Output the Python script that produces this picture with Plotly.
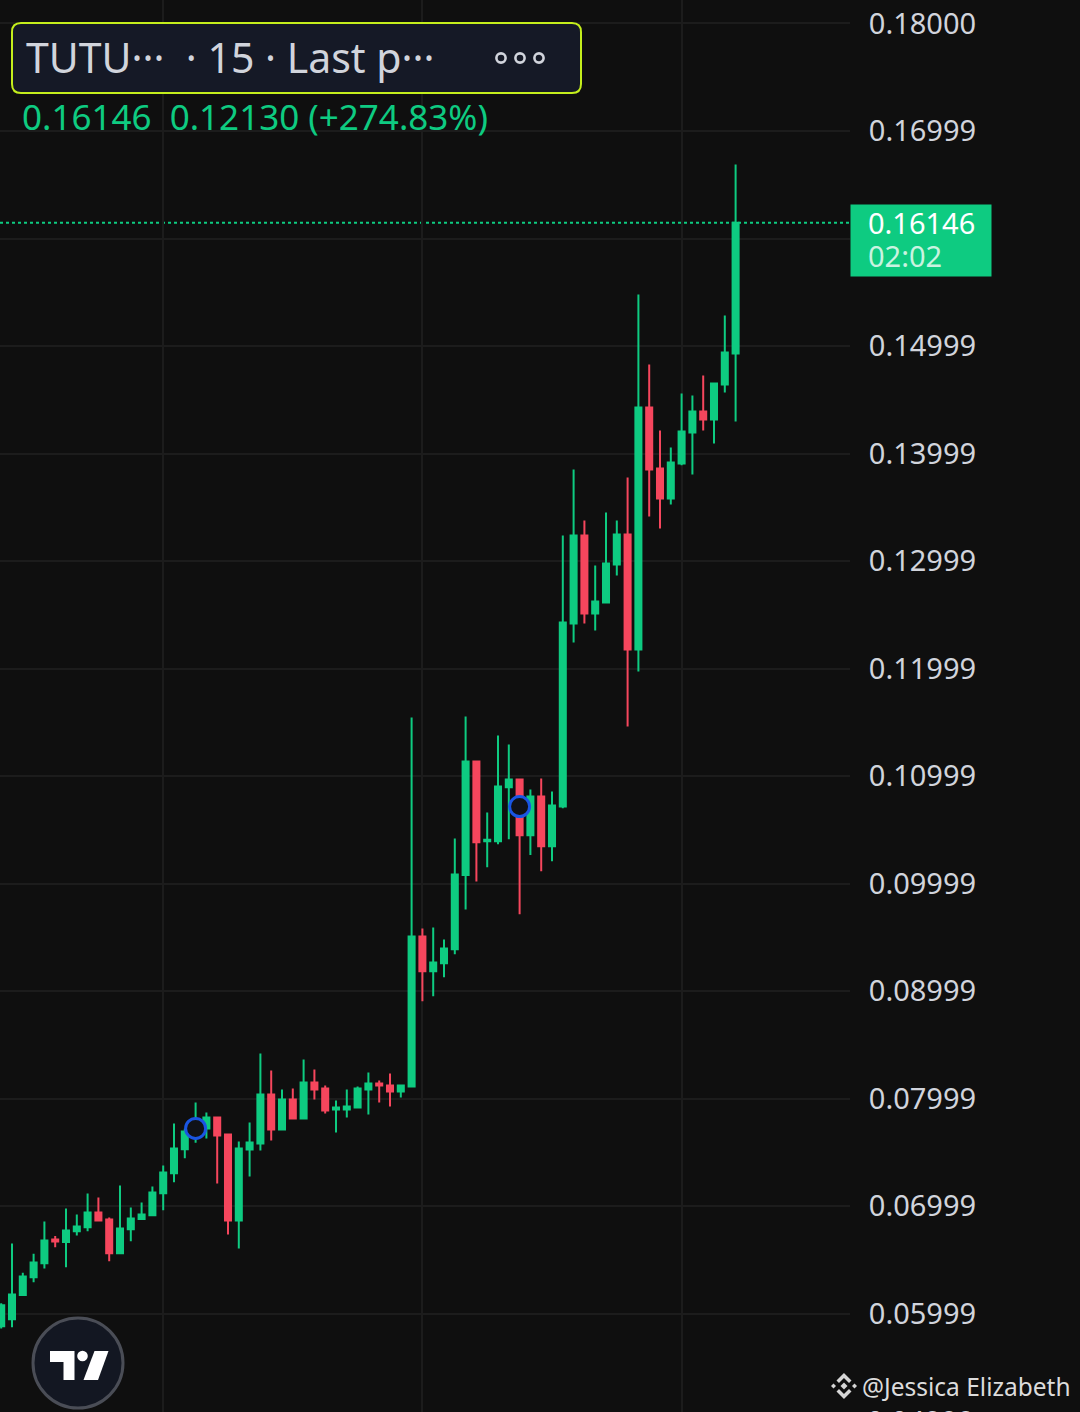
import plotly.graph_objects as go

# 15 min candles, index -1 is the one cut off by the left edge
candle_idx = list(range(-1, 68))
opens = [0.05880, 0.05946, 0.06170, 0.06337, 0.06467, 0.06687, 0.06663, 0.06765, 0.06802, 0.06939,
         0.06873, 0.06560, 0.06783, 0.06877, 0.06914, 0.07118, 0.07304, 0.07528, 0.07701, 0.07720,
         0.07822, 0.07664, 0.06864, 0.07525, 0.07580, 0.08036, 0.07711, 0.07990, 0.07813, 0.08148,
         0.08092, 0.07897, 0.07897, 0.07915, 0.08083, 0.08139, 0.08120, 0.08064, 0.08111, 0.09506,
         0.09183, 0.09258, 0.09388, 0.10077, 0.11134, 0.10393, 0.10393, 0.10895, 0.10966, 0.10449,
         0.10808, 0.10346, 0.10715, 0.12418, 0.13236, 0.12511, 0.12613, 0.12966, 0.13246, 0.12176,
         0.14427, 0.13859, 0.13580, 0.13906, 0.14194, 0.14390, 0.14315, 0.14641, 0.14929]
highs = [0.06095, 0.06650, 0.06377, 0.06554, 0.06855, 0.06721, 0.06976, 0.06920, 0.07115, 0.07078,
         0.06892, 0.07190, 0.06985, 0.07032, 0.07180, 0.07376, 0.07766, 0.07717, 0.07962, 0.07869,
         0.07826, 0.07673, 0.07599, 0.07776, 0.08418, 0.08259, 0.08083, 0.08092, 0.08362, 0.08269,
         0.08120, 0.07980, 0.08083, 0.08111, 0.08241, 0.08166, 0.08232, 0.08129, 0.11543, 0.09580,
         0.09590, 0.09478, 0.10418, 0.11552, 0.11136, 0.10659, 0.11376, 0.11292, 0.10976, 0.10873,
         0.10976, 0.10855, 0.13236, 0.13850, 0.13376, 0.12957, 0.13450, 0.13376, 0.13776, 0.15478,
         0.14827, 0.14213, 0.14055, 0.14557, 0.14539, 0.14725, 0.14660, 0.15283, 0.16687]
lows = [0.05860, 0.05872, 0.06165, 0.06290, 0.06418, 0.06616, 0.06430, 0.06725, 0.06765, 0.06858,
        0.06486, 0.06558, 0.06672, 0.06875, 0.06912, 0.06960, 0.07221, 0.07444, 0.07587, 0.07627,
        0.07208, 0.06734, 0.06604, 0.07273, 0.07515, 0.07608, 0.07709, 0.07811, 0.07811, 0.07990,
        0.07859, 0.07683, 0.07822, 0.07913, 0.07850, 0.07962, 0.07925, 0.08008, 0.08105, 0.08904,
        0.08951, 0.09128, 0.09342, 0.09757, 0.10018, 0.10151, 0.10365, 0.10411, 0.09714, 0.10263,
        0.10114, 0.10207, 0.10700, 0.12241, 0.12418, 0.12352, 0.12611, 0.12864, 0.11459, 0.11971,
        0.13413, 0.13301, 0.13525, 0.13890, 0.13804, 0.14213, 0.14092, 0.14566, 0.14297]
closes = [0.06076, 0.06176, 0.06343, 0.06473, 0.06678, 0.06669, 0.06771, 0.06808, 0.06939, 0.06864,
          0.06560, 0.06790, 0.06883, 0.06920, 0.07125, 0.07311, 0.07534, 0.07692, 0.07763, 0.07822,
          0.07655, 0.06864, 0.07534, 0.07590, 0.08036, 0.07711, 0.07990, 0.07813, 0.08148, 0.08083,
          0.07887, 0.07915, 0.07925, 0.08092, 0.08139, 0.08120, 0.08064, 0.08120, 0.09506, 0.09183,
          0.09264, 0.09394, 0.10083, 0.11134, 0.10383, 0.10405, 0.10901, 0.10966, 0.10449, 0.10808,
          0.10346, 0.10725, 0.12427, 0.13236, 0.12511, 0.12622, 0.12976, 0.13246, 0.12176, 0.14427,
          0.13850, 0.13580, 0.13915, 0.14204, 0.14390, 0.14315, 0.14650, 0.14939, 0.16146]

# blue circle markers on the chart
marker_idx = [17, 47]
marker_price = [0.07720, 0.10715]

tick_vals = [0.05999, 0.06999, 0.07999, 0.08999, 0.09999, 0.10999, 0.11999,
             0.12999, 0.13999, 0.14999, 0.15999, 0.16999, 0.18000]
# 0.15999 sits under the last price label, only its grid line shows
tick_text = ["" if v == 0.15999 else "%.5f" % v for v in tick_vals]
grid_x = [14, 38, 62]

last_price = closes[-1]
change = 0.12130
change_pct = 274.83
countdown = "02:02"
symbol_text = "TUTU\u00b7\u00b7\u00b7  \u00b7 15 \u00b7 Last p\u00b7\u00b7\u00b7"
watermark = "@Jessica Elizabeth"

W, H = 1080, 1412
PLOT_W = 850
GREEN = "#0ecb81"
RED = "#f6465d"
BG = "#0f0f0f"
FONT = "Noto Sans"


def px(x):
    return x / PLOT_W


def py(y):
    return 1 - y / H


def poly(points):
    return "M " + " L ".join("%f,%f" % (px(x), py(y)) for x, y in points) + " Z"


def rounded_rect(x0, y0, x1, y1, r):
    pts = [
        ("M", x0 + r, y0), ("L", x1 - r, y0), ("Q", x1, y0, x1, y0 + r),
        ("L", x1, y1 - r), ("Q", x1, y1, x1 - r, y1), ("L", x0 + r, y1),
        ("Q", x0, y1, x0, y1 - r), ("L", x0, y0 + r), ("Q", x0, y0, x0 + r, y0),
    ]
    out = []
    for p in pts:
        if p[0] == "Q":
            out.append("Q %f,%f %f,%f" % (px(p[1]), py(p[2]), px(p[3]), py(p[4])))
        else:
            out.append("%s %f,%f" % (p[0], px(p[1]), py(p[2])))
    return " ".join(out) + " Z"


def circle(cx, cy, r, **kw):
    return dict(type="circle", xref="paper", yref="paper",
                x0=px(cx - r), x1=px(cx + r), y0=py(cy + r), y1=py(cy - r), **kw)


fig = go.Figure()

fig.add_trace(go.Candlestick(
    x=candle_idx, open=opens, high=highs, low=lows, close=closes,
    increasing=dict(line=dict(color=GREEN, width=2), fillcolor=GREEN),
    decreasing=dict(line=dict(color=RED, width=2), fillcolor=RED),
    whiskerwidth=0, hoverinfo="skip",
))

fig.add_trace(go.Scatter(
    x=marker_idx, y=marker_price, mode="markers",
    marker=dict(symbol="circle", size=20, color="#101218",
                line=dict(color="#1a55e3", width=3)),
    hoverinfo="skip",
))

shapes = []
# dotted last price line
shapes.append(dict(type="line", xref="paper", x0=0, x1=1, yref="y", y0=last_price, y1=last_price,
                   line=dict(color=GREEN, width=2, dash="dot"), layer="below"))

# header box
shapes.append(dict(type="path", xref="paper", yref="paper", path=rounded_rect(12, 23, 581, 93, 9),
                   fillcolor="#151926", line=dict(color="#c4ee1c", width=2), layer="above"))
for cx in [501, 520, 539]:
    shapes.append(circle(cx, 58, 4.6, line=dict(color="#d1d4dc", width=2.6),
                         fillcolor="rgba(0,0,0,0)", layer="above"))

# TradingView badge
shapes.append(circle(78, 1363, 45, fillcolor="#131722", line=dict(color="#4a4d56", width=3), layer="above"))
shapes.append(dict(type="path", xref="paper", yref="paper", layer="above", fillcolor="#ffffff",
                   line=dict(width=0),
                   path=poly([(50, 1351), (74.5, 1351), (74.5, 1380), (63.5, 1380), (63.5, 1362), (50, 1362)])))
shapes.append(circle(82.5, 1356, 5.3, fillcolor="#ffffff", line=dict(width=0), layer="above"))
shapes.append(dict(type="path", xref="paper", yref="paper", layer="above", fillcolor="#ffffff",
                   line=dict(width=0),
                   path=poly([(94.5, 1351), (108.5, 1351), (98, 1380), (83.5, 1380)])))

# Binance diamond icon next to watermark
icon_col = "#d6d6d6"
icon_parts = [
    [(844, 1382.5), (847.5, 1386), (844, 1389.5), (840.5, 1386)],
    [(833.5, 1383.5), (836, 1386), (833.5, 1388.5), (831, 1386)],
    [(854.5, 1383.5), (857, 1386), (854.5, 1388.5), (852, 1386)],
    [(844, 1373), (851.5, 1380.5), (849, 1383), (844, 1378), (839, 1383), (836.5, 1380.5)],
    [(844, 1399), (851.5, 1391.5), (849, 1389), (844, 1394), (839, 1389), (836.5, 1391.5)],
]
for part in icon_parts:
    shapes.append(dict(type="path", xref="paper", yref="paper", layer="above",
                       fillcolor=icon_col, line=dict(width=0), path=poly(part)))

annotations = []
annotations.append(dict(xref="paper", yref="paper", x=px(24), y=py(57), xanchor="left", yanchor="middle",
                        text=symbol_text, showarrow=False,
                        font=dict(family=FONT, size=41, color="#d1d4dc")))
annotations.append(dict(xref="paper", yref="paper", x=px(20), y=py(116), xanchor="left", yanchor="middle",
                        text="%.5f&nbsp;&nbsp;%.5f (+%.2f%%)" % (last_price, change, change_pct),
                        showarrow=False, font=dict(family=FONT, size=35, color=GREEN)))

# last price label on the axis
annotations.append(dict(xref="paper", yref="y", x=1, y=last_price, xanchor="left", yanchor="top",
                        yshift=19, text=" ", showarrow=False, width=140, height=71,
                        bgcolor=GREEN, borderpad=0, font=dict(size=10)))
annotations.append(dict(xref="paper", yref="y", x=1, y=last_price, xanchor="left", yanchor="middle",
                        xshift=16, yshift=0, text="%.5f" % last_price, showarrow=False,
                        font=dict(family=FONT, size=29, color="#ffffff")))
annotations.append(dict(xref="paper", yref="y", x=1, y=last_price, xanchor="left", yanchor="middle",
                        xshift=16, yshift=-33, text=countdown, showarrow=False,
                        font=dict(family=FONT, size=29, color="#c9f3e0")))

# tick label cut by the bottom edge
annotations.append(dict(xref="paper", yref="paper", x=px(865), y=py(1421), xanchor="left",
                        yanchor="middle", text="0.04999", showarrow=False,
                        font=dict(family=FONT, size=29, color="#d1d4dc")))

annotations.append(dict(xref="paper", yref="paper", x=px(860), y=py(1386), xanchor="left",
                        yanchor="middle", text=watermark, showarrow=False,
                        font=dict(family=FONT, size=24.5, color="#dcdcdc")))

# axis ranges chosen so that 0.01 = 107.5 px and one candle = 10.8 px
y_top = 0.16999 + 131 / 10750
y_bot = 0.16999 - (H - 131) / 10750
x_left = -12 / 10.8
x_right = x_left + PLOT_W / 10.8

fig.update_layout(
    width=W, height=H,
    margin=dict(l=0, r=W - PLOT_W, t=0, b=0),
    paper_bgcolor=BG, plot_bgcolor=BG,
    showlegend=False,
    boxgap=0.44, boxgroupgap=0,
    shapes=shapes, annotations=annotations,
    xaxis=dict(range=[x_left, x_right], rangeslider=dict(visible=False), tickvals=grid_x,
               showticklabels=False, showgrid=True, gridcolor="#1c1c1c", gridwidth=2,
               zeroline=False, showline=False, fixedrange=True),
    yaxis=dict(range=[y_bot, y_top], side="right", tickvals=tick_vals, ticktext=tick_text,
               showgrid=True, gridcolor="#1c1c1c", gridwidth=2, zeroline=False, showline=False,
               ticks="outside", ticklen=12, tickcolor="rgba(0,0,0,0)",
               tickfont=dict(family=FONT, size=29, color="#d1d4dc")),
)

fig.write_html("out.html", config={"displayModeBar": False},
               post_script="document.body.style.margin = '0px';")
